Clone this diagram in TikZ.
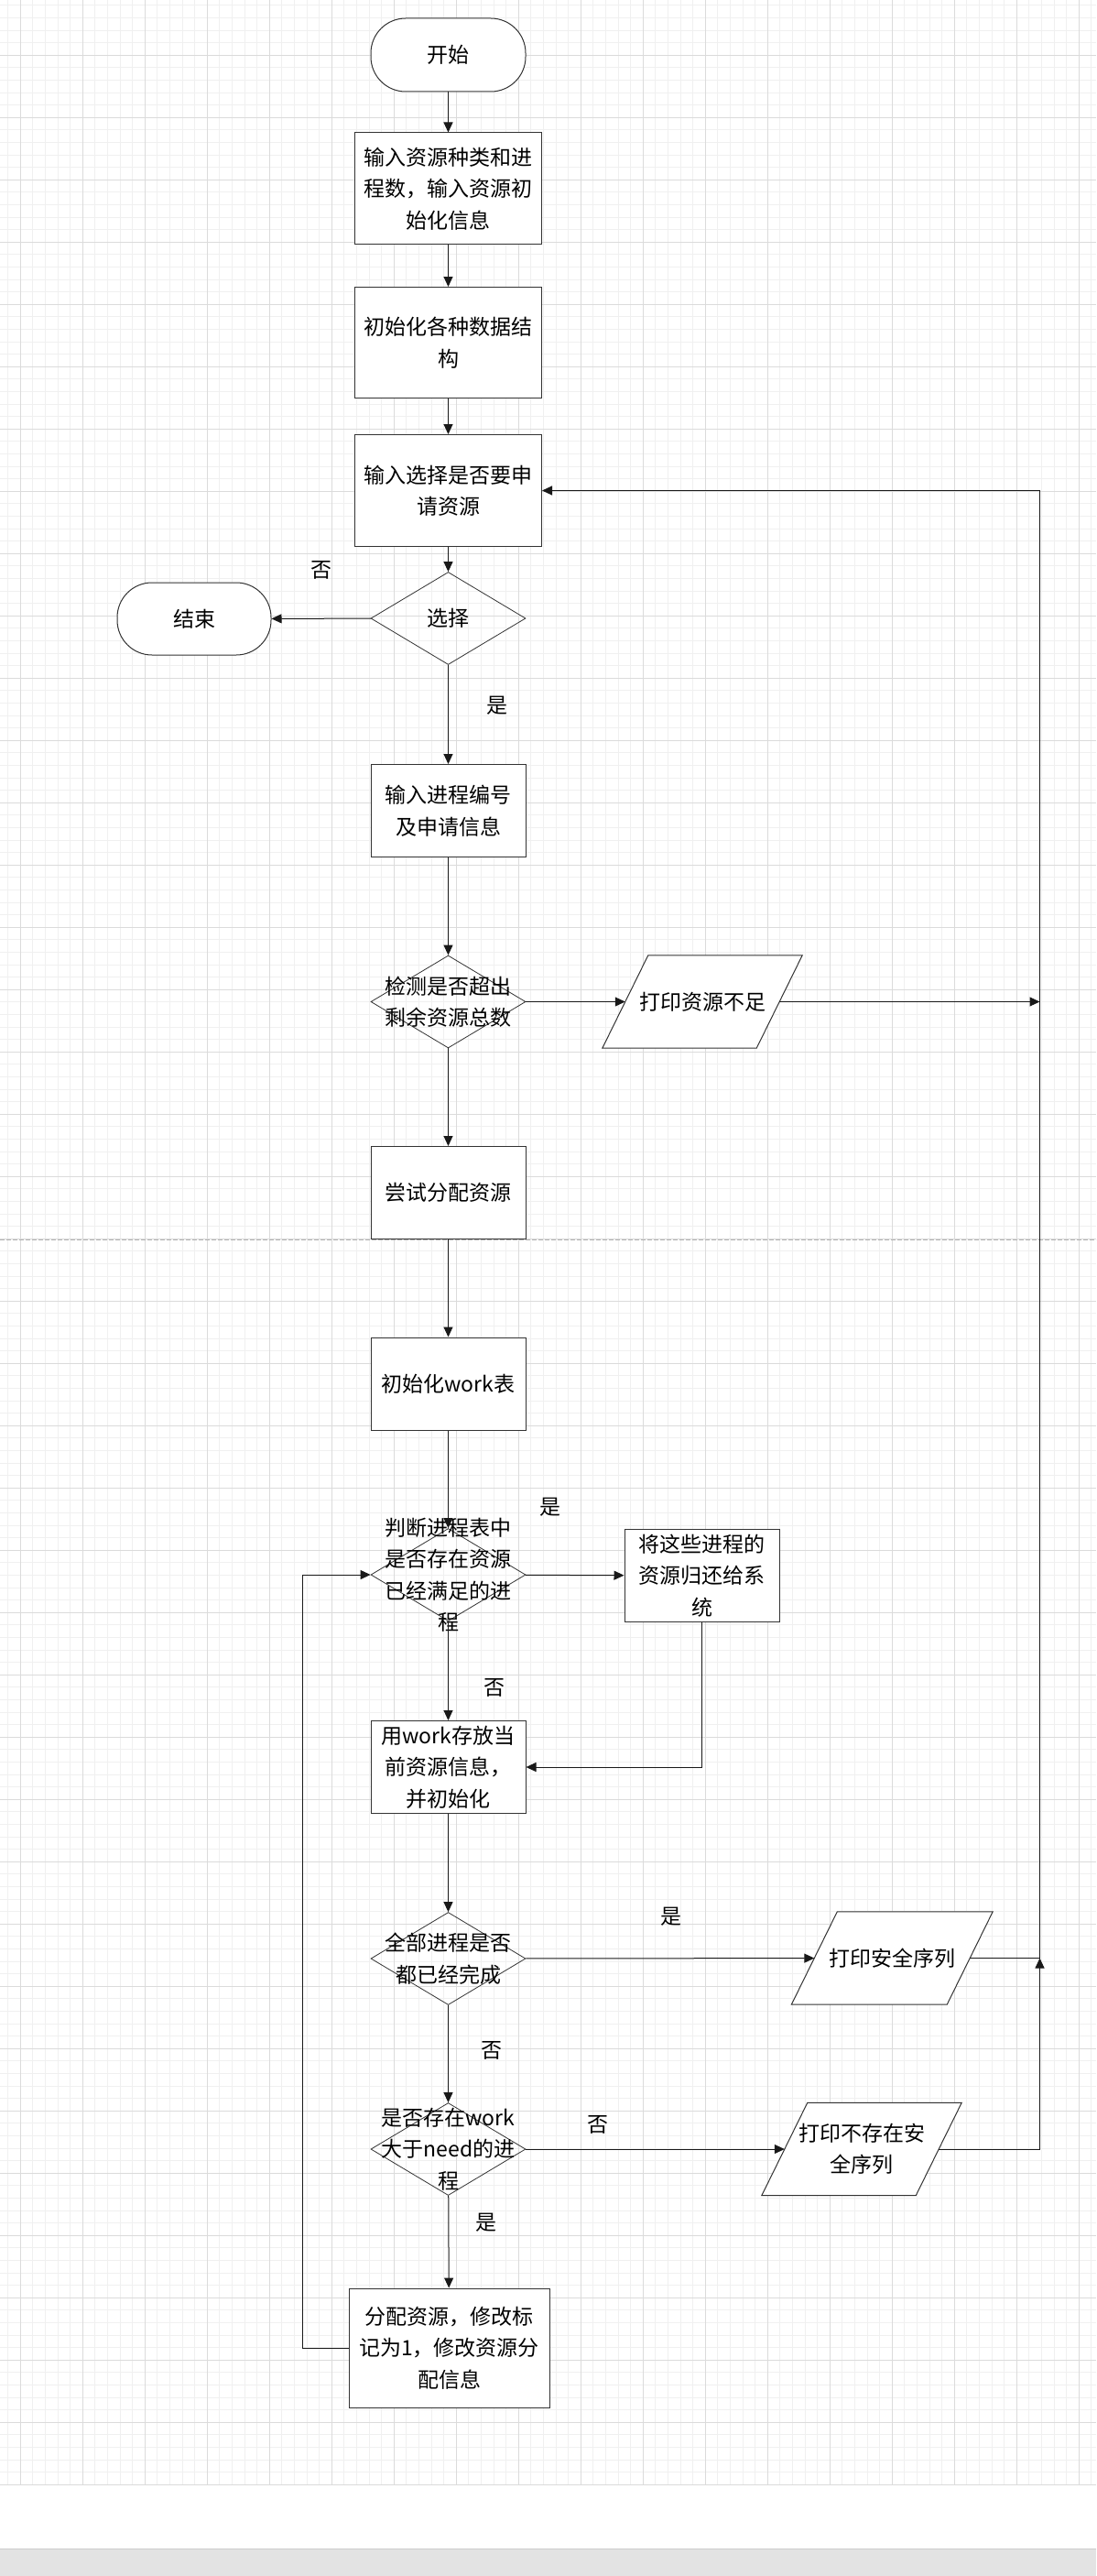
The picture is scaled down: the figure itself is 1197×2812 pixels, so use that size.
\documentclass[tikz,border=0pt]{standalone}
\usepackage{fontspec}
\setmainfont{Noto Sans CJK SC}
\usetikzlibrary{arrows.meta,shapes.geometric}
\pgfdeclarelayer{grid}
\pgfdeclarelayer{io}
\pgfsetlayers{grid,io,main}

\begin{document}
\begin{tikzpicture}[x=1pt,y=-1pt,
        font=\fontsize{23}{34.5}\selectfont,
        box/.style={draw=black!80,line width=1pt,fill=white,minimum width=169pt,minimum height=101pt,inner sep=0pt,align=center},
        term/.style={box,rounded corners=38pt,minimum height=80pt},
        decision/.style={diamond,draw=black!80,line width=0.8pt,minimum width=169pt,minimum height=101pt,inner sep=0pt},
        iobox/.style={minimum width=168pt,minimum height=101pt,inner sep=0pt,align=center},
        txt/.style={align=center,inner sep=0pt},
        line/.style={line width=1pt,black!90},
        arr/.style={line,-{Triangle[length=11pt,width=10pt]}}]
            \useasboundingbox (0,0) rectangle (1197,2812);
            \begin{pgfonlayer}{grid}
            \fill[white] (0,0) rectangle (1197,2812);
            \foreach \x in {0,...,87} {
                \draw[black!6,line width=1pt] (8.7+13.6*\x,0) -- (8.7+13.6*\x,2712.3);
            }
            \foreach \y in {0,...,199} {
                \draw[black!6,line width=1pt] (0,5.9+13.6*\y) -- (1197,5.9+13.6*\y);
            }
            \foreach \x in {0,...,17} {
                \draw[black!14,line width=1pt] (22.3+68*\x,0) -- (22.3+68*\x,2712.3);
            }
            \foreach \y in {0,...,39} {
                \draw[black!14,line width=1pt] (0,60.3+68*\y) -- (1197,60.3+68*\y);
            }
            \draw[black!30,dash pattern=on 5pt off 2pt] (0,1353) -- (1197,1353);
            \fill[black!11] (0,2782) rectangle (1197,2812);
            \draw[black!20] (0,2782) -- (1197,2782);
            \end{pgfonlayer}

            \node[term] (start) at (489.5,60) {开始};
            \node[box,minimum width=204pt,minimum height=122pt] (init) at (489.5,206) {输入资源种类和进\\程数，输入资源初\\始化信息};
            \node[box,minimum width=204pt,minimum height=121pt] (data) at (489.5,374) {初始化各种数据结\\构};
            \node[box,minimum width=204pt,minimum height=122pt] (ask) at (489.5,535.5) {输入选择是否要申\\请资源};
            \node[decision,label={[txt]center:选择}] (choose) at (489.5,675) {};
            \node[term,minimum width=168pt,minimum height=79pt] (stop) at (212,675.5) {结束};
            \node[box] (req) at (489.5,885) {输入进程编号\\及申请信息};
            \node[decision,label={[txt]center:检测是否超出\\剩余资源总数}] (check) at (489.5,1093.5) {};
            \node[iobox] (lack) at (767,1093.5) {打印资源不足};
            \node[box] (try) at (489.5,1302) {尝试分配资源};
            \node[box] (work) at (489.5,1510.5) {初始化work表};
            \node[decision,label={[txt]center:判断进程表中\\是否存在资源\\已经满足的进\\程}] (done) at (489.5,1719) {};
            \node[box] (give) at (766.5,1720) {将这些进程的\\资源归还给系\\统};
            \node[box] (store) at (489.5,1929) {用work存放当\\前资源信息，\\并初始化};
            \node[decision,label={[txt]center:全部进程是否\\都已经完成}] (all) at (489.5,2138) {};
            \node[iobox,minimum width=169.5pt] (safe) at (974.25,2137.5) {打印安全序列};
            \node[decision,label={[txt]center:是否存在work\\大于need的进\\程}] (need) at (489.5,2346) {};
            \node[iobox] (unsafe) at (941,2346) {打印不存在安\\全序列};
            \node[box,minimum width=219pt,minimum height=130pt] (alloc) at (490.5,2563) {分配资源，修改标\\记为1，修改资源分\\配信息};

            \begin{pgfonlayer}{io}
            \foreach \n in {lack,safe,unsafe} {
                \filldraw[draw=black!80,fill=white,line width=1pt] ([xshift=25pt]\n.north west) -- ([xshift=25pt]\n.north east) -- ([xshift=-25pt]\n.south east) -- ([xshift=-25pt]\n.south west) -- cycle;
            }
            \end{pgfonlayer}

            \node[txt] (no1) at (351,622) {否};
            \node[txt] (yes1) at (543,770) {是};
            \node[txt] (yes2) at (601,1645) {是};
            \node[txt] (no2) at (540,1842) {否};
            \node[txt] (yes3) at (733,2092) {是};
            \node[txt] (no3) at (537,2238) {否};
            \node[txt] (no4) at (653,2319) {否};
            \node[txt] (yes4) at (530.5,2426) {是};

            \coordinate (right) at (1135.5,0);
            \coordinate (left) at (330.5,0);

            \draw[arr] (start) -- (init);
            \draw[arr] (init) -- (data);
            \draw[arr] (data) -- (ask);
            \draw[arr] (ask) -- (choose);
            \draw[arr] (choose) -- (stop);
            \draw[arr] (choose) -- (req);
            \draw[arr] (req) -- (check);
            \draw[arr] (check) -- (lack);
            \draw[arr] (lack.east) -- (lack.east -| right);
            \draw[arr] (check) -- (try);
            \draw[arr] (try) -- (work);
            \draw[arr] (work) -- (done);
            \draw[arr] (done) -- (give);
            \draw[arr] (give.south) |- (store.east);
            \draw[arr] (done) -- (store);
            \draw[arr] (store) -- (all);
            \draw[arr] (all) -- (safe);
            \draw[arr] (safe.east) -| (right |- ask.east) -- (ask.east);
            \draw[arr] (all) -- (need);
            \draw[arr] (need) -- (unsafe);
            \draw[arr] (unsafe.east) -| (right |- safe.east);
            \draw[arr] (need) -- (alloc);
            \draw[arr] (alloc.west) -| (left |- done.west) -- (done.west);
        \end{tikzpicture}
\end{document}
